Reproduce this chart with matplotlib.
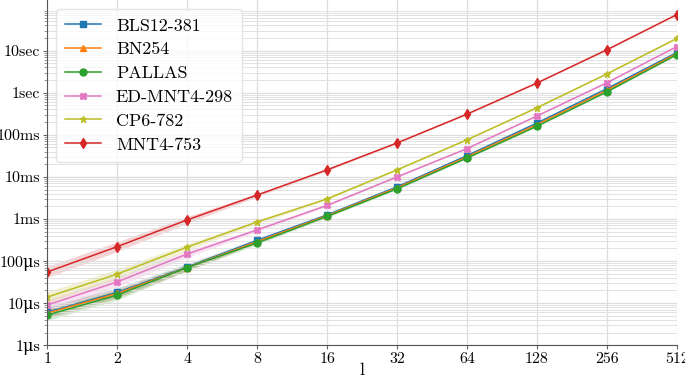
import numpy as np
import matplotlib
matplotlib.use('Agg')
import matplotlib.pyplot as plt
from matplotlib.ticker import FixedLocator, FixedFormatter, LogLocator, NullFormatter

plt.rcParams['font.family'] = ['cmr10', 'DejaVu Serif']
plt.rcParams['mathtext.fontset'] = 'cm'
plt.rcParams['axes.unicode_minus'] = False

l = [1, 2, 4, 8, 16, 32, 64, 128, 256, 512]

# seconds
bls12_381 = [6.1e-6, 18e-6, 72e-6, 3.1e-4, 1.25e-3, 5.8e-3, 3.2e-2, 0.19, 1.25, 9.0]
bn254 = [5.8e-6, 17e-6, 70e-6, 2.9e-4, 1.2e-3, 5.5e-3, 3.0e-2, 0.175, 1.15, 8.5]
pallas = [5.2e-6, 15.5e-6, 70e-6, 2.7e-4, 1.15e-3, 5.2e-3, 2.8e-2, 0.16, 1.05, 8.0]
ed_mnt4_298 = [9e-6, 32e-6, 147e-6, 5.5e-4, 2.1e-3, 1.0e-2, 4.7e-2, 0.28, 1.73, 12.5]
cp6_782 = [13.9e-6, 49e-6, 215e-6, 8.5e-4, 3.0e-3, 1.47e-2, 7.6e-2, 0.44, 2.8, 19.5]
mnt4_753 = [55e-6, 220e-6, 9.5e-4, 3.7e-3, 1.47e-2, 6.4e-2, 0.31, 1.7, 10.5, 72.0]

# relative spread of the shaded bands
spread = [1.35, 1.3, 1.2, 1.1, 1.06, 1.04, 1.03, 1.03, 1.03, 1.03]

names = ['BLS12-381', 'BN254', 'PALLAS', 'ED-MNT4-298', 'CP6-782', 'MNT4-753']
series = [bls12_381, bn254, pallas, ed_mnt4_298, cp6_782, mnt4_753]
colors = ['#1f77b4', '#ff7f0e', '#2ca02c', '#e377c2', '#bcbd22', '#d62728']
markers = ['s', '^', 'o', 'X', '*', 'd']

yticks = [1e-6, 1e-5, 1e-4, 1e-3, 1e-2, 1e-1, 1, 10]
ylabels = ['1μs', '10μs', '100μs', '1ms', '10ms', '100ms', '1sec', '10sec']

fig = plt.figure(figsize=(6.85, 3.81), dpi=100)
ax = fig.add_axes([0.069, 0.094, 0.919, 0.906])

sp = np.array(spread)
for name, vals, c, m in zip(names, series, colors, markers):
    v = np.array(vals)
    ax.fill_between(l, v / sp, v * sp, color=c, alpha=0.2, lw=0)
    ax.plot(l, v, color=c, marker=m, ms=5, lw=1.1, label=name)

ax.set_xscale('log', base=2)
ax.set_yscale('log')
ax.set_xlim(1, 512)
ax.set_ylim(1e-6, 160)
ax.xaxis.set_major_locator(FixedLocator(l))
ax.xaxis.set_major_formatter(FixedFormatter([str(v) for v in l]))
ax.xaxis.set_minor_locator(FixedLocator([]))
ax.yaxis.set_major_locator(FixedLocator(yticks))
ax.yaxis.set_major_formatter(FixedFormatter(ylabels))
ax.yaxis.set_minor_locator(LogLocator(base=10, subs=np.arange(2, 10), numticks=20))
ax.yaxis.set_minor_formatter(NullFormatter())
ax.tick_params(labelsize=11.5, length=3, pad=2, color='#666666')
ax.tick_params(which='minor', length=2, color='#888888')
ax.grid(which='major', color='#dddddd', lw=0.9)
ax.grid(which='minor', axis='y', color='#e2e2e2', lw=0.7)
for s in ['top', 'right']:
    ax.spines[s].set_visible(False)
ax.spines['left'].set_color('#555555')
ax.spines['bottom'].set_color('#555555')
ax.set_xlabel('l', fontsize=13, labelpad=-2)

ax.legend(loc='upper left', fontsize=13, framealpha=0.8, edgecolor='#dddddd',
          handlelength=2.0, borderpad=0.5, labelspacing=0.45)

fig.savefig('out.png', dpi=100)
